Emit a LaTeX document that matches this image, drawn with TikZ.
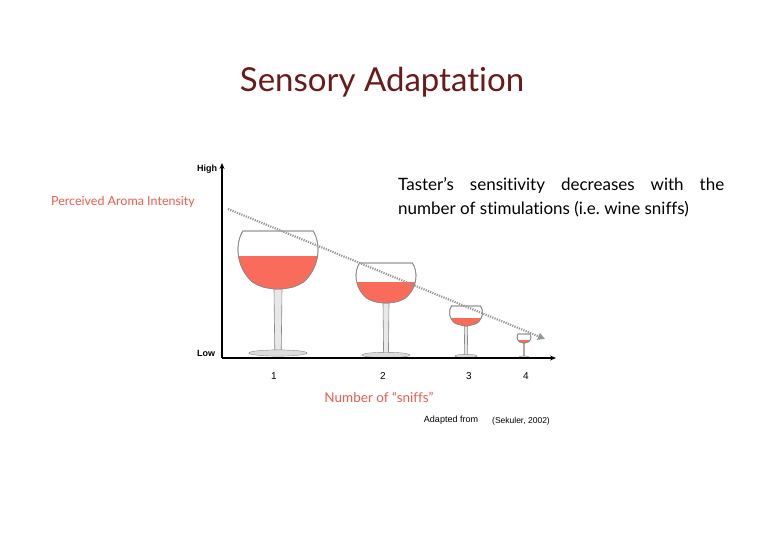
\documentclass[tikz,border=0pt]{standalone}
\usetikzlibrary{arrows.meta}
\usepackage{fontspec}
\setmainfont{Lato}[RawFeature=-liga]
\newfontfamily\arialf{Liberation Sans}
\definecolor{titlered}{HTML}{6B1A1A}
\definecolor{labred}{HTML}{F2594B}
\definecolor{wine}{HTML}{F96B5A}
\definecolor{glassline}{HTML}{8A8A8A}
\begin{document}
\begin{tikzpicture}[x=1pt,y=-1pt,
  lab/.style={inner sep=0pt,anchor=base},
  glassst/.style={draw=glassline,line width=0.7pt,fill=white},
  axis/.style={line width=1.6pt,-{Stealth[length=6pt,width=5pt]}}]
\useasboundingbox (0,0) rectangle (768,534);
% glass macro: cx, top, width, bowl height, base y, base half width, level
\newcommand{\wglass}[7]{%
  \def\bowl{(#1-0.44*#3,#2) .. controls (#1-0.53*#3,#2+0.2*#4) and (#1-0.54*#3,#2+0.6*#4) .. (#1-0.32*#3,#2+0.88*#4)
     .. controls (#1-0.2*#3,#2+0.97*#4) .. (#1-0.04*#3,#2+#4)
     -- (#1+0.04*#3,#2+#4) .. controls (#1+0.2*#3,#2+0.97*#4) .. (#1+0.32*#3,#2+0.88*#4)
     .. controls (#1+0.54*#3,#2+0.6*#4) and (#1+0.53*#3,#2+0.2*#4) .. (#1+0.44*#3,#2) -- cycle}%
  \fill[glassline!20] (#1-0.05*#3,#2+#4) rectangle (#1+0.05*#3,#5);
  \draw[glassline,line width=0.6pt] (#1-0.05*#3,#2+#4) -- (#1-0.04*#3,#5) (#1+0.05*#3,#2+#4) -- (#1+0.04*#3,#5);
  \filldraw[glassline!30,draw=glassline] (#1,#5) ellipse ({#6} and {0.08*#6+0.8});
  \path[glassst] \bowl;
  \begin{scope}\clip \bowl; \fill[wine] (#1-#3,#7) rectangle (#1+#3,#2+#4+2);\end{scope}
  \draw[glassline,line width=0.7pt] \bowl;
}
\node[lab,text=titlered,font=\fontsize{33}{33}\selectfont] (title) at (382,92) {Sensory Adaptation};
\coordinate (origin) at (222,358);
\coordinate (ytop) at (222,163);
\coordinate (xend) at (556,358);
\wglass{278}{231}{80}{58}{353}{29}{256}
\wglass{386}{263}{60}{40}{355}{24}{282}
\wglass{466}{306}{33}{20}{356}{11}{318}
\wglass{524}{334}{14}{9}{357}{5}{340}
\draw[axis] (origin) -- (ytop);
\draw[axis] (origin) -- (xend);
\coordinate (ds) at (228,209);
\coordinate (de) at (545,339);
\draw[glassline!90,line width=2.2pt,dash pattern=on 1.2pt off 1.2pt,-{Triangle[length=7pt,width=7pt]}] (ds) -- (de);
\node[lab,font=\arialf\bfseries\fontsize{9}{9}\selectfont] (high) at (207,172) {High};
\node[lab,font=\arialf\bfseries\fontsize{9}{9}\selectfont] (low) at (206,356) {Low};
\node[lab,text=labred,font=\fontsize{12.5}{12.5}\selectfont] (ylab) at (123,206) {Perceived Aroma Intensity};
\foreach \n/\xx in {1/274,2/383,3/469,4/526}
  \node[lab,font=\arialf\fontsize{10}{10}\selectfont] (t\n) at (\xx,379) {\n};
\node[lab,text=labred,font=\fontsize{13.5}{13.5}\selectfont] (xlab) at (379,402) {Number of “sniffs”};
\node[lab,font=\arialf\fontsize{9}{9}\selectfont] (adapt) at (451,422) {Adapted from};
\node[lab,font=\arialf\fontsize{8.5}{8.5}\selectfont] (sek) at (521,423) {(Sekuler, 2002)};
\node[inner sep=0pt,anchor=north west,text width=326pt,align=justify,font=\fontsize{17}{24}\selectfont] (note) at (398,177)
 {Taster’s sensitivity decreases with the\linebreak number of stimulations (i.e.\ wine sniffs)};
\end{tikzpicture}
\end{document}
